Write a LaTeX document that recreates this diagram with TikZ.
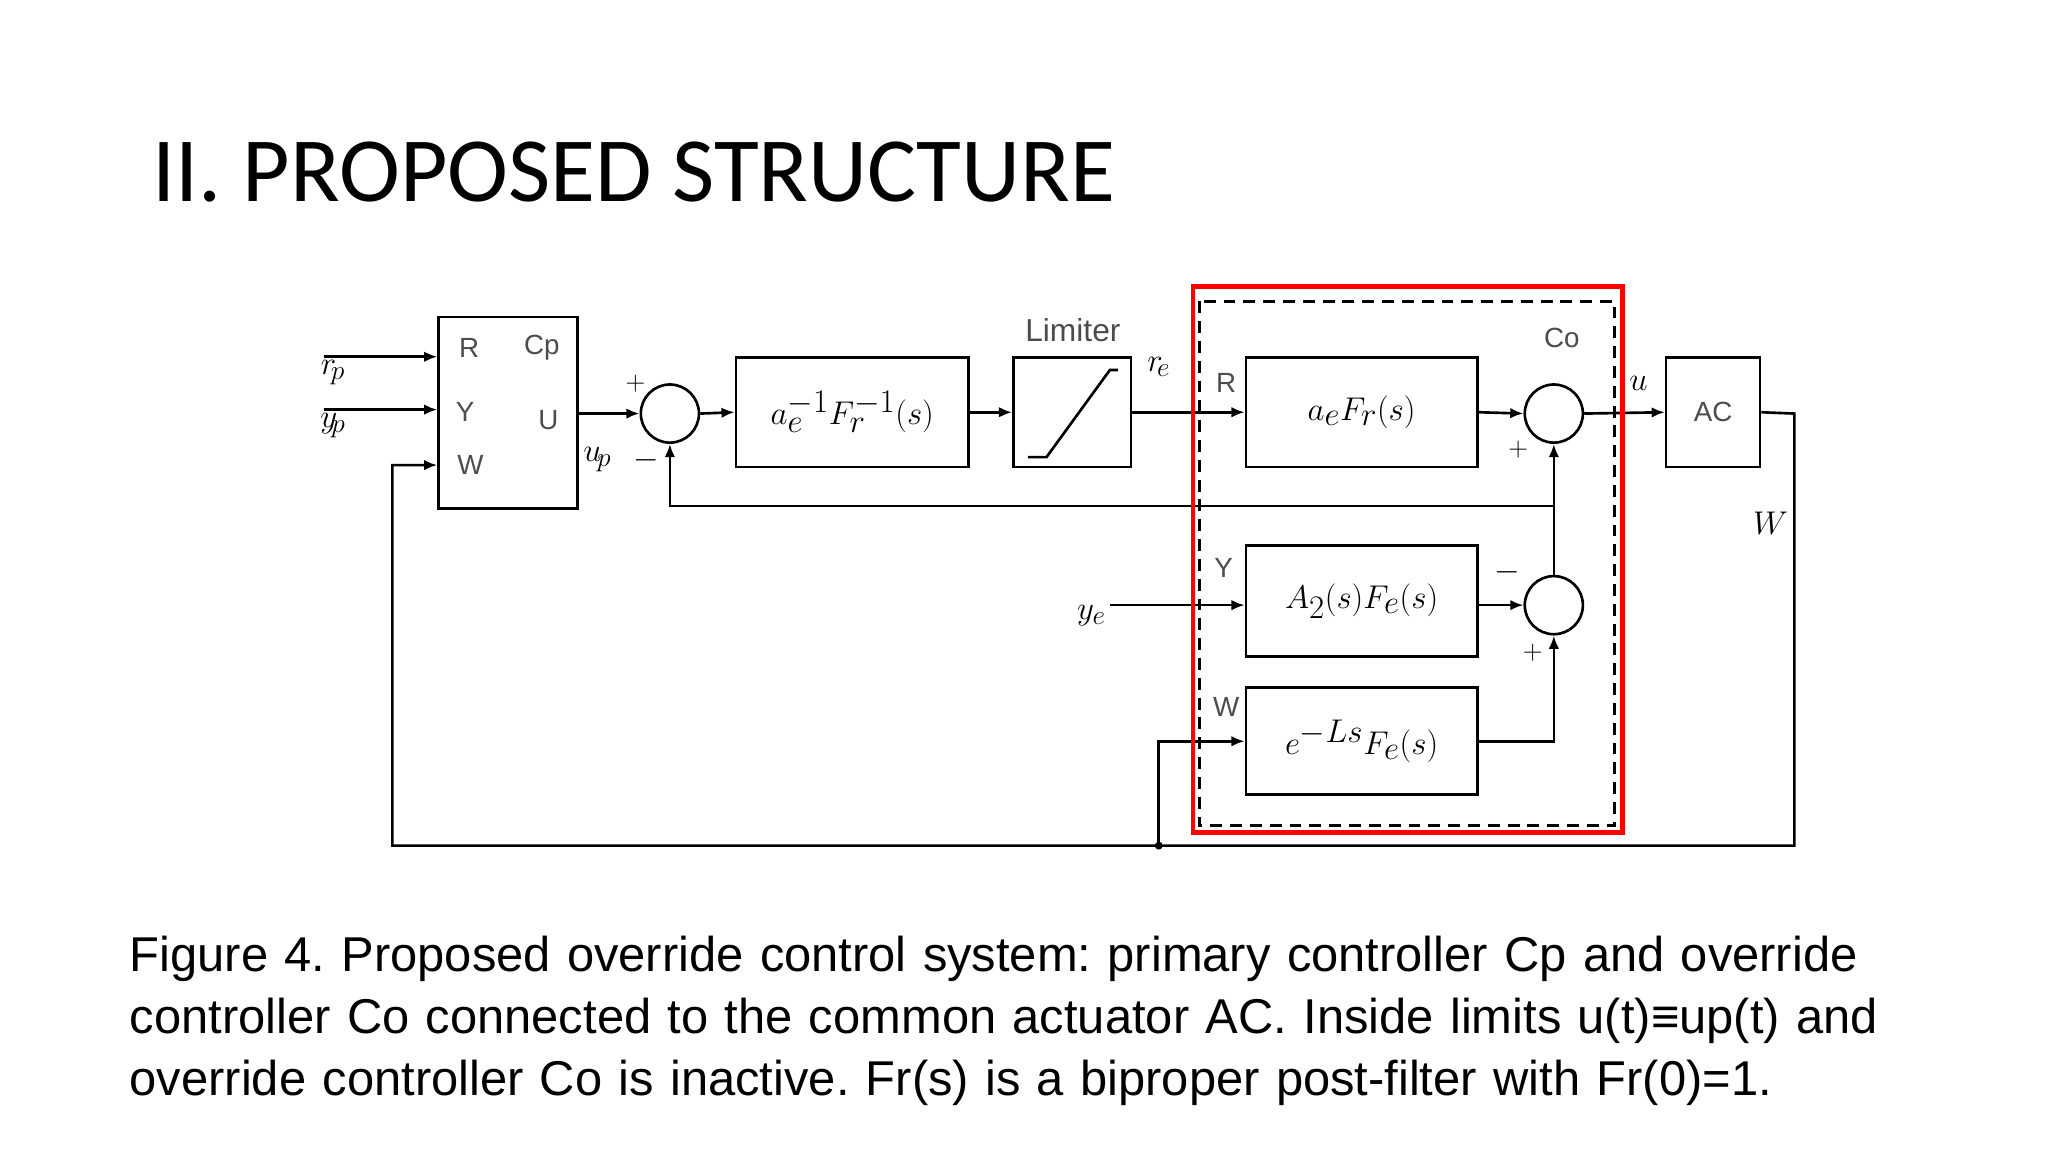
\documentclass[tikz,border=0pt]{standalone}
\usepackage{fontspec}
\setmainfont{Liberation Sans}
\newfontfamily\titlefont{Carlito}
\usetikzlibrary{arrows.meta}
\begin{document}
\frenchspacing
\begin{tikzpicture}[x=1pt,y=-1pt,
  blk/.style={draw,line width=2pt,minimum height=#1},
  sumc/.style={draw,line width=2pt,circle,minimum size=44pt,inner sep=0},
  ln/.style={line width=2pt},
  ar/.style={line width=2pt,-{Latex[length=10pt,width=8pt]}},
  lab/.style={font=\fontsize{21}{23}\selectfont,text=black!70},
  mth/.style={font=\fontsize{40}{44}\selectfont},
  sml/.style={font=\fontsize{30}{32}\selectfont}]
\useasboundingbox (0,0) rectangle (1550,872);
\node[anchor=west,font=\titlefont\fontsize{69.5}{74}\selectfont] (title) at (112,130) {II. PROPOSED STRUCTURE};
% Cp
\node[draw,line width=2pt,minimum width=105pt,minimum height=145pt,anchor=north west] (cp) at (331,239) {};
\node[lab] (lr) at (355,263) {R};
\node[lab] (lcp) at (410,263) {Cp};
\node[lab] (ly) at (352,312) {Y};
\node[lab] (lu) at (415,318) {U};
\node[lab] (lw) at (356,352) {W};
\coordinate (rin) at (245,270);
\coordinate (yin) at (245,310);
\draw[ar] (rin) -- (331,270);
\draw[ar] (yin) -- (331,310);
\node[sml] (rp) at (252,282) {$r_{\!p}$};
\node[sml] (yp) at (252,322) {$y_{\!p}$};
\node[sml] (up) at (452,348) {$u_{\!p}$};
% sum1
\node[sumc] (s1) at (507,313) {};
\node[sml] (p1) at (481,290) {$\scriptstyle +$};
\node[sml] (m1) at (489,348) {$-$};
\draw[ar] (436,313) -- (s1.west);
% box1
\node[blk=83pt,minimum width=176pt,mth] (b1) at (645,312) {$a_e^{-1}F_r^{-1}(s)$};
\draw[ar] (s1.east) -- (b1.west);
% limiter
\node[blk=83pt,minimum width=89pt] (lim) at (811.5,312) {};
\draw[ln] (778,346) -- (792,346) -- (840,280) -- (846,280);
\node[lab,font=\fontsize{24}{26}\selectfont] (limt) at (812,250) {Limiter};
\draw[ar] (b1.east) -- (lim.west);
\node[sml] (re) at (877,278) {$r_{\!e}$};
% Co boxes
\node[blk=83pt,minimum width=175pt,mth] (bR) at (1030.5,312) {$a_e F_r(s)$};
\node[blk=84pt,minimum width=175pt,mth] (bY) at (1030.5,455) {$A_2(s)F_e(s)$};
\node[blk=81pt,minimum width=175pt,mth] (bW) at (1030.5,561) {$e^{-Ls}F_e(s)$};
\draw[ar] (lim.east) -- (bR.west);
\node[lab] (cR) at (928,290) {R};
\node[lab] (cY) at (926,430) {Y};
\node[lab] (cW) at (928,535) {W};
\node[lab] (co) at (1182,256) {Co};
\node[sumc] (s2) at (1176,313) {};
\node[sumc] (s3) at (1176,458) {};
\draw[ar] (bR.east) -- (s2.west);
\draw[ar] (bY.east |- s3) -- (s3.west);
\node[sml] (p2) at (1149,340) {$\scriptstyle +$};
\node[sml] (m3) at (1141,433) {$-$};
\node[sml] (p3) at (1160,494) {$\scriptstyle +$};
\draw[ar] (s3.north) -- (s2.south);
\draw[ar] (bW.east) -| (s3.south);
\coordinate (j1) at (1176,383);
\draw[ar] (j1) -- (507,383) -- (s1.south);
\coordinate (yein) at (840,458);
\draw[ar] (yein) -- (bY.west |- yein);
\node[sml] (ye) at (826,466) {$y_e$};
% AC
\node[blk=83pt,minimum width=71pt,lab] (ac) at (1296.5,312) {AC};
\draw[ar] (s2.east) -- (ac.west);
\node[sml] (u) at (1240,290) {$u$};
\node[sml] (wl) at (1340,396) {$W$};
\coordinate (jb) at (877,640);
\draw[ar] (ac.east) -- (1358,313) -- (1358,640) -- (297,640) -- (297,352) -- (331,352);
\draw[ar] (jb) -- (877,561) -- (bW.west);
\fill (jb) circle (3pt);
% dashed and red
\draw[line width=2pt,dash pattern=on 9pt off 6pt] (908,228) rectangle (1222,625);
\draw[red,line width=3.5pt] (903,217) rectangle (1228,630);
% caption
\node[anchor=north west,align=left,font=\fontsize{37}{47}\selectfont,text width=1440pt,inner sep=0] (cap) at (98,708)
{Figure 4. Proposed override control system: primary controller Cp and override\\
controller Co connected to the common actuator AC. Inside limits u(t)≡up(t) and\\
override controller Co is inactive. Fr(s) is a biproper post-filter with Fr(0)=1.};
\end{tikzpicture}
\end{document}
